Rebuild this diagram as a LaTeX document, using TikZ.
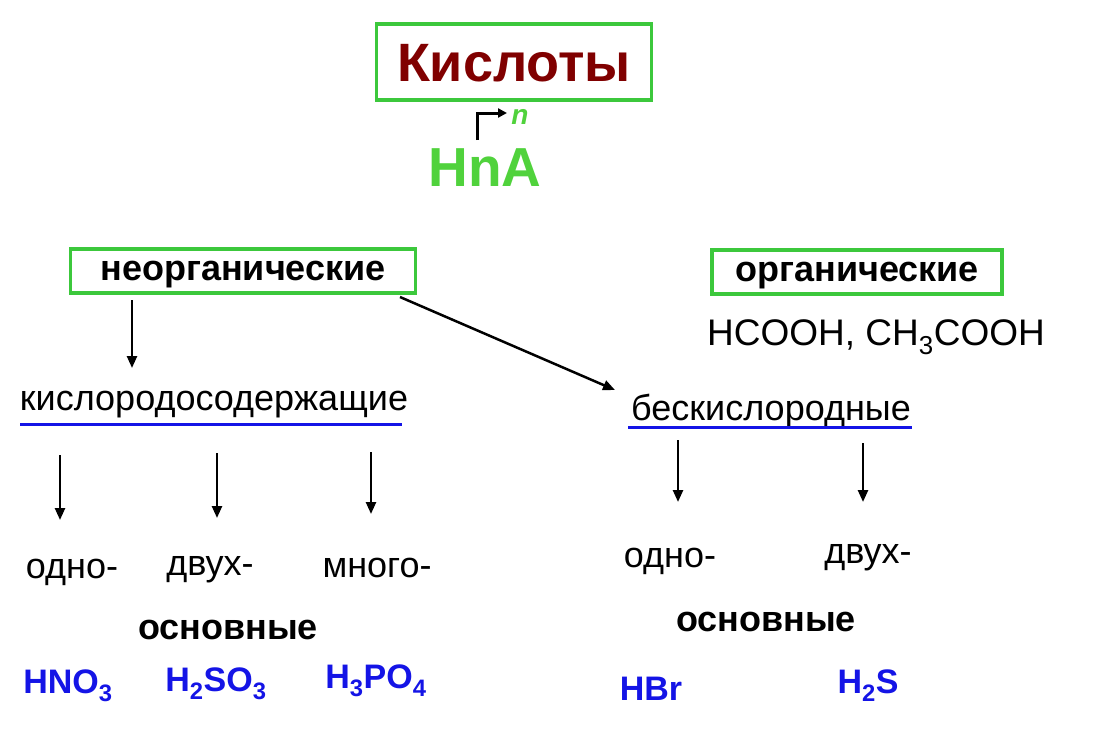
\documentclass[tikz,border=0pt]{standalone}
\usepackage{fontspec}
\setmainfont{Liberation Sans}
\usetikzlibrary{arrows.meta}
\definecolor{gbox}{RGB}{60,200,60}
\definecolor{gtxt}{RGB}{80,210,60}
\definecolor{dred}{RGB}{128,0,0}
\definecolor{bl}{RGB}{20,20,230}
\begin{document}
\begin{tikzpicture}[x=1pt,y=-1pt,
  gb/.style={draw=gbox,line width=3.5pt,minimum height=44pt,inner sep=0pt,text height=18pt,text depth=0pt},
  arr/.style={line width=2.5pt,-{Triangle[length=12pt,width=10pt]}},
  ul/.style={draw=bl,line width=3pt},
  t/.style={font=\fontsize{36}{40}\selectfont,yshift=-5pt},
  tb/.style={font=\fontsize{36}{40}\selectfont\bfseries,yshift=-5pt},
  f/.style={font=\fontsize{34}{38}\selectfont\bfseries,text=bl,yshift=-4pt}]
\useasboundingbox (0,0) rectangle (1120,748);
\node[gb,minimum width=275pt,minimum height=76pt,text height=38pt,font=\fontsize{54}{58}\selectfont\bfseries,text=dred] (k) at (514,62) {Кислоты};
\node[font=\fontsize{55}{58}\selectfont\bfseries,text=gtxt] (hna) at (485,168) {HnA};
\coordinate (a0) at (477,140);
\coordinate (a1) at (477,113);
\coordinate (a2) at (507,113);
\draw[line width=3pt,-{Triangle[length=9pt,width=9pt]},line join=miter] (a0)--(a1)--(a2);
\node[font=\fontsize{28}{30}\selectfont\bfseries\itshape,text=gtxt] (n) at (520,117) {n};
\node[gb,minimum width=345pt,font=\fontsize{36}{40}\selectfont\bfseries] (neo) at (243,271) {неорганические};
\node[gb,minimum width=290pt,font=\fontsize{36}{40}\selectfont\bfseries] (org) at (857,272) {органические};
\node[t,font=\fontsize{37}{40}\selectfont] (hc) at (876,332) {HCOOH, CH\textsubscript{3}COOH};
\node[t] (kis) at (214,400) {кислородосодержащие};
\draw[ul] (20,424)--(402,424);
\node[t] (bes) at (771,406) {бескислородные};
\draw[ul] (628,427)--(912,427);
\coordinate (c1) at (132,300); \coordinate (c2) at (132,368);
\draw[arr] (c1)--(c2);
\coordinate (d1) at (400,297); \coordinate (d2) at (615,390);
\draw[arr] (d1)--(d2);
\foreach \x/\a/\b in {60/455/520,217/453/518,371/452/514,678/440/502,863/443/502}{
  \coordinate (p1) at (\x,\a); \coordinate (p2) at (\x,\b); \draw[arr] (p1)--(p2);}
\node[t] (o1) at (72,567) {одно-};
\node[t] (d1n) at (210,565) {двух-};
\node[t] (m1) at (377,563) {много-};
\node[tb] (os1) at (228,625) {основные};
\node[f] (h1) at (68,682) {HNO\textsubscript{3}};
\node[f] (h2) at (216,680) {H\textsubscript{2}SO\textsubscript{3}};
\node[f] (h3) at (376,677) {H\textsubscript{3}PO\textsubscript{4}};
\node[t] (o2) at (670,556) {одно-};
\node[t] (d2n) at (868,553) {двух-};
\node[tb] (os2) at (766,617) {основные};
\node[f] (h4) at (651,685) {HBr};
\node[f] (h5) at (868,682) {H\textsubscript{2}S};
\end{tikzpicture}
\end{document}
